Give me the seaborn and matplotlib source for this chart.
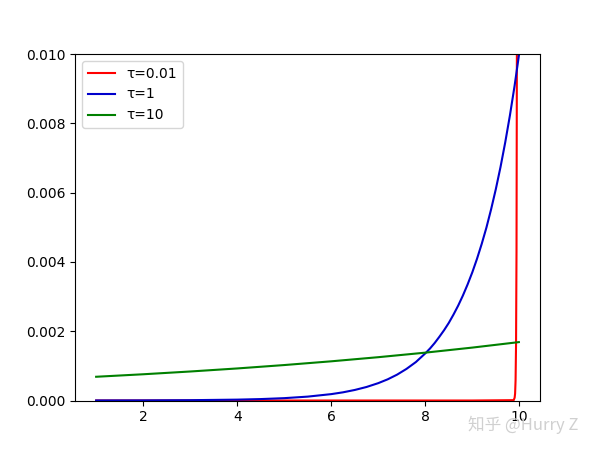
import matplotlib
matplotlib.use('Agg')
import matplotlib.pyplot as plt
import seaborn as sns

# values (softmax with temperature tau)
x_red = [1.0, 5.0, 9.0, 9.88, 9.9, 9.91, 9.92, 9.93, 9.94, 9.95, 9.96, 9.97, 9.98, 9.99]
y_red = [0.0, 0.0, 0.0, 0.00001, 0.00008, 0.0002, 0.00058, 0.0016, 0.0043, 0.0116,
         0.0315, 0.0855, 0.232, 0.632]

x_blue = [1.0, 2.0, 3.0, 4.0, 4.5, 5.0, 5.5, 6.0, 6.25, 6.5, 6.75, 7.0, 7.2, 7.4,
          7.6, 7.8, 8.0, 8.1, 8.2, 8.3, 8.4, 8.5, 8.6, 8.7, 8.8, 8.9, 9.0,
          9.1, 9.2, 9.3, 9.4, 9.5, 9.6, 9.7, 9.8, 9.9, 9.99]
y_blue = [0.0000012, 0.0000034, 0.0000092, 0.0000249, 0.0000411, 0.0000677,
          0.000112, 0.000184, 0.000236, 0.000304, 0.000390, 0.000501, 0.000611,
          0.000746, 0.000912, 0.00111, 0.00136, 0.00150, 0.00166, 0.00184,
          0.00203, 0.00224, 0.00248, 0.00274, 0.00303, 0.00335, 0.00370,
          0.00409, 0.00452, 0.00499, 0.00552, 0.00610, 0.00674, 0.00745,
          0.00823, 0.00909, 0.00995]

x_green = [1.0, 2.0, 3.0, 4.0, 5.0, 6.0, 7.0, 8.0, 9.0, 9.99]
y_green = [0.000685, 0.000757, 0.000837, 0.000925, 0.001023, 0.001131,
           0.001250, 0.001381, 0.001527, 0.001685]

labels = ['τ=0.01', 'τ=1', 'τ=10']

fig, ax = plt.subplots(figsize=(6, 4.5), dpi=100)
sns.lineplot(x=x_red, y=y_red, color='r', label=labels[0], ax=ax)
sns.lineplot(x=x_blue, y=y_blue, color='#0000cc', label=labels[1], ax=ax)
sns.lineplot(x=x_green, y=y_green, color='g', label=labels[2], ax=ax)

ax.set_ylim(0, 0.01)
ax.legend(loc='upper left')

# watermark in the lower right corner
fig.text(0.78, 0.045, '知乎 @Hurry Z', fontsize=12, color='#d0d0d0',
         family=['Noto Sans CJK SC', 'DejaVu Sans'])

fig.savefig('out.png', dpi=100)
